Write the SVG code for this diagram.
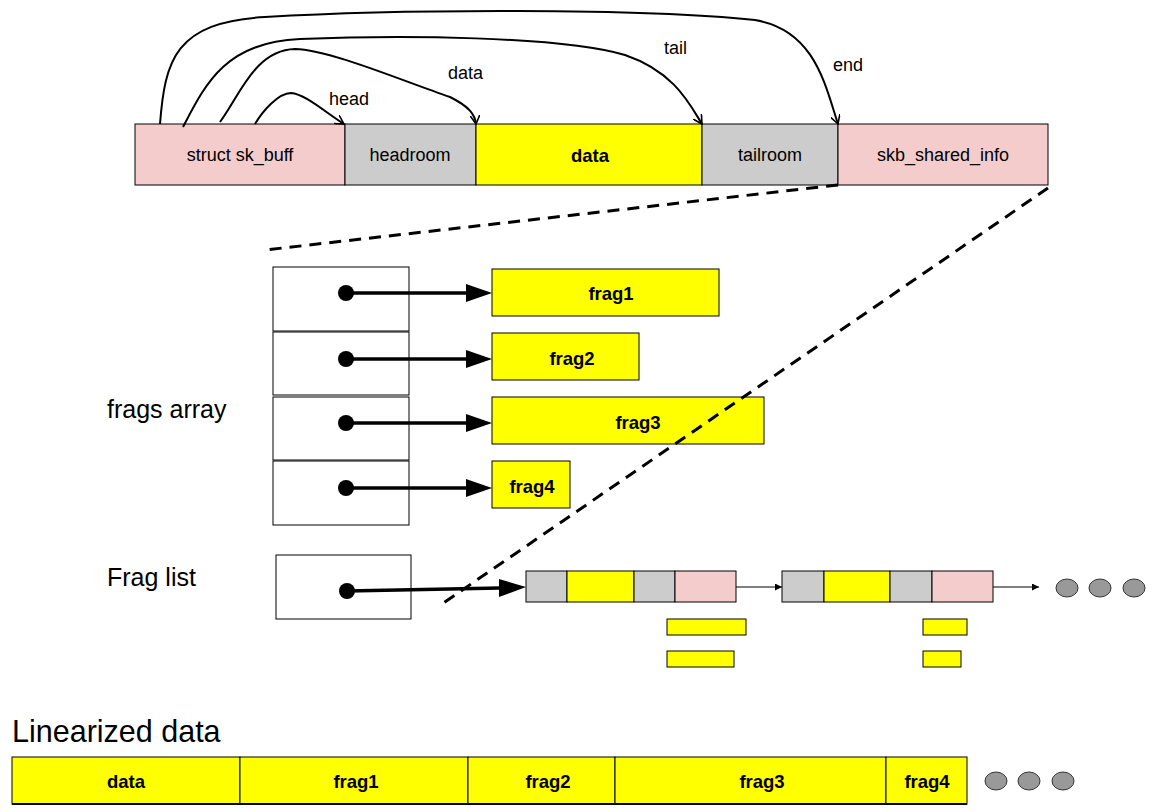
<svg xmlns="http://www.w3.org/2000/svg" width="1153" height="812" viewBox="0 0 1153 812">
<style>
text{font-family:"Liberation Sans",Arial,sans-serif;fill:#000}
.t{font-size:18px;text-anchor:middle;dominant-baseline:central}
.b{font-weight:bold;font-size:18.5px}
.lbl{font-size:18px}
.big{font-size:25px}
.pink{fill:#f4cccc;stroke:#000;stroke-width:1}
.gray{fill:#cccccc;stroke:#000;stroke-width:1}
.yel{fill:#ffff00;stroke:#000;stroke-width:1}
.box{fill:#fff;stroke:#000;stroke-width:1}
.cur{fill:none;stroke:#000;stroke-width:2}
.dash{fill:none;stroke:#000;stroke-width:3;stroke-dasharray:12 8}
.ptr{stroke:#000;stroke-width:3.5;fill:none}
.thin{stroke:#000;stroke-width:1;fill:none}
.dot{fill:#999;stroke:#333;stroke-width:1}
</style>
<defs>
<marker id="open" viewBox="0 0 10 10" refX="9" refY="5" markerWidth="10" markerHeight="10" markerUnits="userSpaceOnUse" orient="auto">
<path d="M0,0 L9,5 L0,10" fill="none" stroke="#000" stroke-width="1.6"/>
</marker>
<marker id="small" viewBox="0 0 10 10" refX="10" refY="5" markerWidth="8" markerHeight="7" markerUnits="userSpaceOnUse" orient="auto">
<path d="M0,0 L10,5 L0,10 z" fill="#000"/>
</marker>
</defs>

<g id="skb-bar">
<rect class="pink" x="135" y="124" width="210" height="61"/>
<text class="t" x="240" y="155">struct sk_buff</text>
<rect class="gray" x="345" y="124" width="131" height="61"/>
<text class="t" x="410" y="155">headroom</text>
<rect class="yel" x="476" y="124" width="226" height="61"/>
<text class="t b" x="590" y="155">data</text>
<rect class="gray" x="702" y="124" width="136" height="61"/>
<text class="t" x="770" y="155">tailroom</text>
<rect class="pink" x="838" y="124" width="210" height="61"/>
<text class="t" x="943" y="155">skb_shared_info</text>
</g>

<g id="frags-array">
<text class="big" x="107" y="418">frags array</text>
<rect class="box" x="273" y="267" width="136" height="64"/>
<rect class="box" x="273" y="332" width="136" height="63"/>
<rect class="box" x="273" y="397" width="136" height="63"/>
<rect class="box" x="273" y="461" width="136" height="64"/>
</g>

<g id="frag1"><rect class="yel" x="492" y="269" width="227" height="47"/><text class="t b" x="611" y="293">frag1</text></g>
<g id="frag2"><rect class="yel" x="492" y="333" width="147" height="47"/><text class="t b" x="572" y="358">frag2</text></g>
<g id="frag3"><rect class="yel" x="492" y="397" width="272" height="47"/><text class="t b" x="638" y="422">frag3</text></g>
<g id="frag4"><rect class="yel" x="492" y="461" width="78" height="47"/><text class="t b" x="532" y="486">frag4</text></g>

<g id="frag-list">
<text class="big" x="107" y="586">Frag list</text>
<rect class="box" x="276" y="555" width="135" height="64"/>
</g>

<g id="list-node1">
<rect class="gray" x="526" y="571" width="41" height="31"/>
<rect class="yel" x="567" y="571" width="67" height="31"/>
<rect class="gray" x="634" y="571" width="41" height="31"/>
<rect class="pink" x="675" y="571" width="61" height="31"/>
<rect class="yel" x="667" y="619" width="79" height="16"/>
<rect class="yel" x="667" y="651" width="67" height="16"/>
</g>

<g id="list-node2">
<rect class="gray" x="782" y="571" width="42" height="31"/>
<rect class="yel" x="824" y="571" width="66" height="31"/>
<rect class="gray" x="890" y="571" width="42" height="31"/>
<rect class="pink" x="932" y="571" width="61" height="31"/>
<rect class="yel" x="923" y="619" width="44" height="16"/>
<rect class="yel" x="923" y="651" width="38" height="16"/>
</g>

<g id="list-more">
<ellipse class="dot" cx="1067" cy="588" rx="11" ry="9"/>
<ellipse class="dot" cx="1100" cy="588" rx="11" ry="9"/>
<ellipse class="dot" cx="1134" cy="588" rx="11" ry="9"/>
</g>

<g id="linearized">
<text x="12" y="742" style="font-size:30.5px">Linearized data</text>
<rect class="yel" x="12" y="757" width="228" height="47"/>
<text class="t b" x="126" y="781">data</text>
<rect class="yel" x="240" y="757" width="228" height="47"/>
<text class="t b" x="356" y="781">frag1</text>
<rect class="yel" x="468" y="757" width="147" height="47"/>
<text class="t b" x="548" y="781">frag2</text>
<rect class="yel" x="615" y="757" width="271" height="47"/>
<text class="t b" x="762" y="781">frag3</text>
<rect class="yel" x="886" y="757" width="81" height="47"/>
<text class="t b" x="927" y="781">frag4</text>
<line x1="12" y1="804" x2="967" y2="804" stroke="#000" stroke-width="2"/>
<ellipse class="dot" cx="996" cy="781" rx="11" ry="9"/>
<ellipse class="dot" cx="1029" cy="781" rx="11" ry="9"/>
<ellipse class="dot" cx="1063" cy="781" rx="11" ry="9"/>
</g>

<g id="connectors">
<path class="cur" marker-end="url(#open)" d="M160,124 C165,60 175,22 265,17 C400,9 640,8 755,20 C815,30 825,85 838,124"/>
<path class="cur" marker-end="url(#open)" d="M183,127 C205,85 225,42 300,39 C400,35 560,36 625,55 C675,72 690,105 702,124"/>
<path class="cur" marker-end="url(#open)" d="M220,122 C240,95 255,50 295,49 C330,50 400,80 450,97 C470,107 475,115 476,124"/>
<path class="cur" marker-end="url(#open)" d="M255,124 C262,112 278,93 291,93 C305,94 325,112 344,124"/>
<text class="lbl" x="329" y="105">head</text>
<text class="lbl" x="448" y="79">data</text>
<text class="lbl" x="664" y="54">tail</text>
<text class="lbl" x="833" y="71">end</text>

<line class="dash" x1="838" y1="185" x2="265" y2="250"/>
<line class="dash" x1="1048" y1="188" x2="439" y2="606"/>

<circle cx="346" cy="293" r="8"/>
<line class="ptr" x1="346" y1="293" x2="468" y2="293"/>
<path d="M466,284 L492,293 L466,302 z"/>
<circle cx="346" cy="359" r="8"/>
<line class="ptr" x1="346" y1="359" x2="468" y2="359"/>
<path d="M466,350 L492,359 L466,368 z"/>
<circle cx="346" cy="423" r="8"/>
<line class="ptr" x1="346" y1="423" x2="468" y2="423"/>
<path d="M466,414 L492,423 L466,432 z"/>
<circle cx="346" cy="488" r="8"/>
<line class="ptr" x1="346" y1="488" x2="468" y2="488"/>
<path d="M466,479 L492,488 L466,497 z"/>
<circle cx="347" cy="591" r="8"/>
<line class="ptr" x1="347" y1="591" x2="500" y2="588"/>
<path d="M499,579 L526,587 L499,597 z"/>

<line class="thin" marker-end="url(#small)" x1="736" y1="587" x2="782" y2="587"/>
<line class="thin" marker-end="url(#small)" x1="993" y1="587" x2="1039" y2="587"/>
</g>
</svg>
